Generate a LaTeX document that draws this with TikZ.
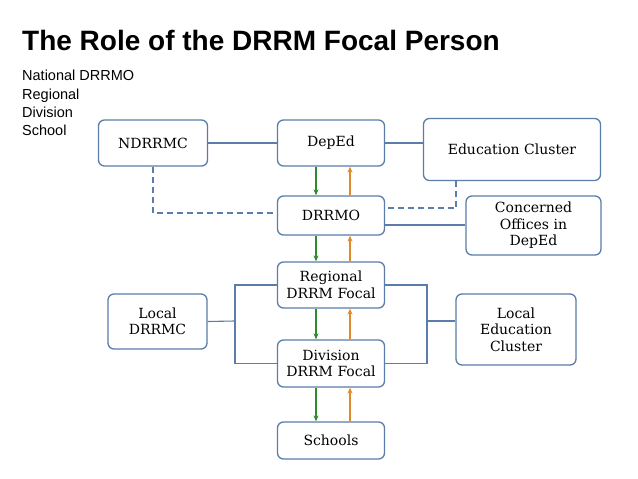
\documentclass[tikz,border=0pt]{standalone}
\usepackage{fontspec}
\setmainfont{DejaVu Serif}
\setsansfont{Liberation Sans}
\usetikzlibrary{arrows.meta}
\definecolor{bx}{HTML}{5A7DAA}
\definecolor{gr}{HTML}{2E8B2E}
\definecolor{og}{HTML}{E08A2C}
\begin{document}
\begin{tikzpicture}[x=1pt,y=-1pt,
  box/.style={draw=bx,line width=1.3pt,rounded corners=6pt,fill=white,align=center,font=\fontsize{14}{16.5}\selectfont,inner sep=0pt},
  ln/.style={draw=bx,line width=1.1pt},
  dl/.style={draw=bx,line width=1.1pt,dash pattern=on 6pt off 4pt},
  ga/.style={draw=gr,line width=1.1pt,-{Stealth[length=6pt,width=5pt]}},
  oa/.style={draw=og,line width=1.1pt,-{Stealth[length=6pt,width=5pt]}}]
\useasboundingbox (0,0) rectangle (638,479);
\fill[white] (0,0) rectangle (638,479);
\node[anchor=west,font=\sffamily\bfseries\fontsize{28}{30}\selectfont,inner sep=0pt] (title) at (22,40) {The Role of the DRRM Focal Person};
\node[anchor=north west,align=left,font=\sffamily\fontsize{14.5}{18.3}\selectfont,inner sep=0pt] (lst) at (22,70) {National DRRMO\\Regional\\Division\\School};
\node[box,minimum width=109pt,minimum height=46pt] (nd) at (153,143) {NDRRMC};
\node[box,minimum width=107pt,minimum height=46pt] (de) at (331,143) {DepEd};
\node[box,minimum width=177pt,minimum height=62pt] (ec) at (512,149.5) {Education Cluster};
\node[box,minimum width=107pt,minimum height=39pt] (dr) at (331,215.5) {DRRMO};
\node[box,minimum width=135pt,minimum height=59pt] (co) at (533.5,225.5) {Concerned\\Offices in\\DepEd};
\node[box,minimum width=107pt,minimum height=46pt] (rg) at (331,285) {Regional\\DRRM Focal};
\node[box,minimum width=99pt,minimum height=55pt] (ld) at (157.5,321.5) {Local\\DRRMC};
\node[box,minimum width=120pt,minimum height=71pt] (le) at (516,329.5) {Local\\Education\\Cluster};
\node[box,minimum width=107pt,minimum height=47pt] (dv) at (331,363.5) {Division\\DRRM Focal};
\node[box,minimum width=107pt,minimum height=37pt] (sc) at (331,440.5) {Schools};
\draw[ln] (nd.east) -- (de.west);
\draw[ln] (de.east) -- (ec.west |- de.east);
\draw[dl] (nd.south) -- (nd.south |- 0,213) -- (dr.west |- 0,213);
\draw[dl] (456,180.5) -- (456,208) -- (dr.east |- 0,208);
\draw[ln] (dr.east |- 0,225) -- (co.west |- 0,225);
\coordinate (lb) at (235,321);
\coordinate (rb) at (427,321);
\draw[ln] (ld.east) -- (lb);
\draw[ln] (rg.west) -| (lb) |- (dv.west);
\draw[ln] (le.west |- rb) -- (rb);
\draw[ln] (rg.east) -| (rb) |- (dv.east);
\foreach \a/\b in {de/dr,dr/rg,rg/dv,dv/sc}{
  \draw[ga] ([xshift=-15pt]\a.south) -- ([xshift=-15pt]\b.north);
  \draw[oa] ([xshift=19pt]\b.north) -- ([xshift=19pt]\a.south);
}
\end{tikzpicture}
\end{document}
